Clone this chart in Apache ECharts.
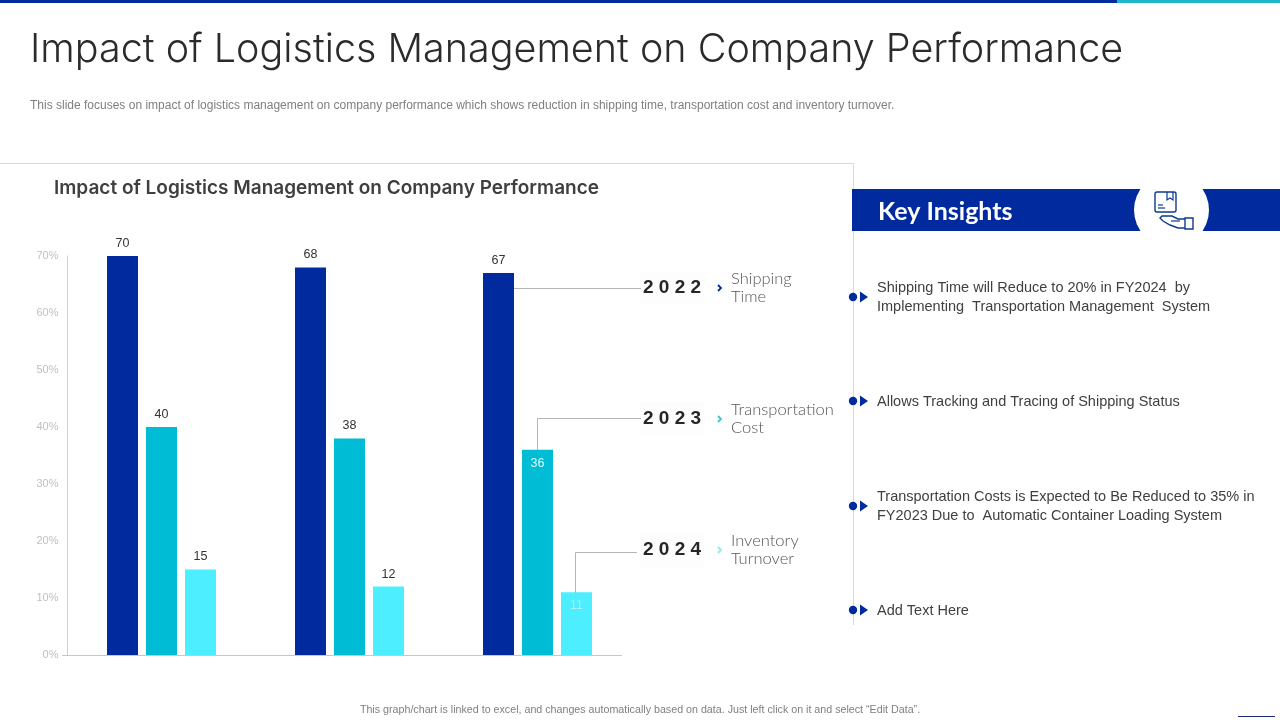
<!doctype html>
<html>
<head>
<meta charset="UTF-8">
<title>Impact of Logistics Management on Company Performance</title>
<style>
	html, body { margin: 0; padding: 0; background: #fff; }
	#main { width: 1280px; height: 720px; }
</style>
</head>
<body>
<div id="main"></div>
<script src="https://cdn.jsdelivr.net/npm/echarts@6/dist/echarts.min.js"></script>
<script>
var categories = ['Group 1', 'Group 2', 'Group 3'];
var seriesNames = ['Shipping Time', 'Transportation Cost', 'Inventory Turnover'];
var shippingTime = [70, 68, 67];
var transportationCost = [40, 38, 36];
var inventoryTurnover = [15, 12, 11];
var years = ['2 0 2 2', '2 0 2 3', '2 0 2 4'];
var barColors = ['#002a9e', '#00bcd4', '#4deeff'];
var insights = [
	['Shipping Time will Reduce to 20% in FY2024  by', 'Implementing  Transportation Management  System'],
	['Allows Tracking and Tracing of Shipping Status'],
	['Transportation Costs is Expected to Be Reduced to 35% in', 'FY2023 Due to  Automatic Container Loading System'],
	['Add Text Here']
];

var HEAD_FONT = 'Inter';
var SUB_FONT = 'Lato';
var BODY_FONT = '"Liberation Sans"';

function text(x, y, str, size, color, opts) {
	opts = opts || {};
	return {
		type: 'text', x: x, y: y, silent: true, z: 10,
		style: {
			text: str, fontSize: size, fill: color,
			fontFamily: opts.family || BODY_FONT,
			fontWeight: opts.weight || 'normal',
			textAlign: opts.align || 'left',
			textVerticalAlign: 'middle'
		}
	};
}
function rect(x, y, w, h, color, z) {
	return { type: 'rect', silent: true, z: z || 1, shape: { x: x, y: y, width: w, height: h }, style: { fill: color } };
}
function poly(points, color, width, z) {
	return { type: 'polyline', silent: true, z: z || 5, shape: { points: points }, style: { stroke: color, lineWidth: width || 1, fill: null } };
}

var graphics = [
	rect(0, 0, 1117, 3, '#002a9e'),
	rect(1117, 0, 163, 3, '#1fb6c9'),
	rect(1238, 716, 37, 1, '#1a2a7a'),
	text(30, 50.5, 'Impact of Logistics Management on Company Performance', 39.5, '#2b2b2b', { family: HEAD_FONT, weight: 300 }),
	text(30, 106, 'This slide focuses on impact of logistics management on company performance which shows reduction in shipping time, transportation cost and inventory turnover.', 12, '#7f7f7f'),
	text(54, 188.5, 'Impact of Logistics Management on Company Performance', 19, '#3f3f3f', { family: HEAD_FONT, weight: 600 }),
	text(640, 710, 'This graph/chart is linked to excel, and changes automatically based on data. Just left click on it and select \u201cEdit Data\u201d.', 10.7, '#7f7f7f', { align: 'center' }),
	// panel border, drawn under the header bar
	poly([[0, 163.5], [853.5, 163.5], [853.5, 625]], '#d9d9d9', 1, 1),
	// x axis baseline
	poly([[62, 655.5], [622, 655.5]], '#b9ccd6', 1),
	// leader lines
	poly([[514, 288.5], [641, 288.5]], '#b5b5b5', 1),
	poly([[537.5, 450], [537.5, 418.5], [641, 418.5]], '#b5b5b5', 1),
	poly([[575.5, 593], [575.5, 552.5], [637, 552.5]], '#b5b5b5', 1),
	// key insights header
	rect(852, 189, 428, 42, '#002a9e'),
	{ type: 'circle', silent: true, z: 2, shape: { cx: 1171.5, cy: 210, r: 37.5 }, style: { fill: '#fff' } },
	text(878, 212, 'Key Insights', 25, '#ffffff', { family: SUB_FONT, weight: 'bold' }),
	// icon: box on a hand
	{ type: 'rect', silent: true, z: 5, shape: { x: 1155, y: 192, width: 21, height: 20, r: 2 }, style: { stroke: '#0d3a8f', lineWidth: 1.4, fill: '#fff' } },
	poly([[1167, 192], [1167, 200], [1170, 198], [1173, 200], [1173, 192]], '#0d3a8f', 1.2),
	poly([[1158, 205], [1163, 205]], '#0d3a8f', 1.2),
	poly([[1158, 208], [1165, 208]], '#0d3a8f', 1.2),
	poly([[1185, 219], [1178, 219], [1172, 216], [1162, 216], [1160, 218], [1163, 221], [1170, 225], [1178, 228], [1185, 228]], '#0d3a8f', 1.4),
	poly([[1171, 221], [1180, 221]], '#0d3a8f', 1.2),
	{ type: 'rect', silent: true, z: 5, shape: { x: 1185, y: 218, width: 8, height: 11 }, style: { stroke: '#0d3a8f', lineWidth: 1.4, fill: '#fff' } }
];

// year boxes and their two line captions
var captionLines = [['Shipping', 'Time'], ['Transportation', 'Cost'], ['Inventory', 'Turnover']];
var rowY = [288, 419, 550];
var chevronColors = ['#002a9e', '#3cc6cf', '#8fe9ee'];
rowY.forEach(function(y, i) {
	graphics.push(rect(640, y - 17, 64, 34, '#fdfdfd'));
	graphics.push(text(643, y, years[i], 19, '#262626', { weight: 'bold' }));
	graphics.push(poly([[718, y - 3], [721, y], [718, y + 3]], chevronColors[i], 1.8));
	graphics.push(text(731, y - 9, captionLines[i][0], 16.5, '#555555', { family: SUB_FONT, weight: 300 }));
	graphics.push(text(731, y + 9, captionLines[i][1], 16.5, '#555555', { family: SUB_FONT, weight: 300 }));
});

// insight bullets
var bulletY = [297, 401, 506, 610];
insights.forEach(function(lines, i) {
	var y = bulletY[i];
	graphics.push({ type: 'circle', silent: true, z: 6, shape: { cx: 853, cy: y, r: 4.2 }, style: { fill: '#002a9e' } });
	graphics.push({ type: 'polygon', silent: true, z: 6, shape: { points: [[860, y - 5.5], [868, y], [860, y + 5.5]] }, style: { fill: '#002a9e' } });
	lines.forEach(function(line, j) {
		var ty = lines.length === 1 ? y + 0.5 : y - 9.5 + j * 19;
		graphics.push(text(877, ty, line, 14.5, '#404040'));
	});
});

function barData(values, insideIndex) {
	return values.map(function(v, i) {
		if (i !== insideIndex) return v;
		return { value: v, label: { position: 'insideTop', color: v < 20 ? '#a8f4fb' : '#d8fbff', distance: 7 } };
	});
}

var chart = echarts.init(document.getElementById('main'), null, { renderer: 'canvas' });
chart.setOption({
	animation: false,
	backgroundColor: '#ffffff',
	textStyle: { fontFamily: BODY_FONT },
	grid: { left: 67.5, top: 256, width: 564, height: 399 },
	xAxis: {
		type: 'category',
		data: categories,
		axisLine: { show: false },
		axisTick: { show: false },
		axisLabel: { show: false },
		splitLine: { show: false }
	},
	yAxis: {
		type: 'value',
		min: 0,
		max: 70,
		interval: 10,
		axisLine: { show: true, lineStyle: { color: '#d0d0d0' } },
		axisTick: { show: false },
		splitLine: { show: false },
		axisLabel: { formatter: '{value}%', color: '#c0c0c0', fontSize: 11, margin: 9, fontFamily: BODY_FONT }
	},
	series: [
		{ name: seriesNames[0], data: barData(shippingTime, -1) },
		{ name: seriesNames[1], data: barData(transportationCost, 2) },
		{ name: seriesNames[2], data: barData(inventoryTurnover, 2) }
	].map(function(s, i) {
		s.type = 'bar';
		s.barWidth = 31;
		s.barGap = '25.8%';
		s.itemStyle = { color: barColors[i] };
		s.label = { show: true, position: 'top', distance: 6, color: '#333333', fontSize: 12.5, fontFamily: BODY_FONT };
		return s;
	}),
	graphic: graphics
});
</script>
</body>
</html>
